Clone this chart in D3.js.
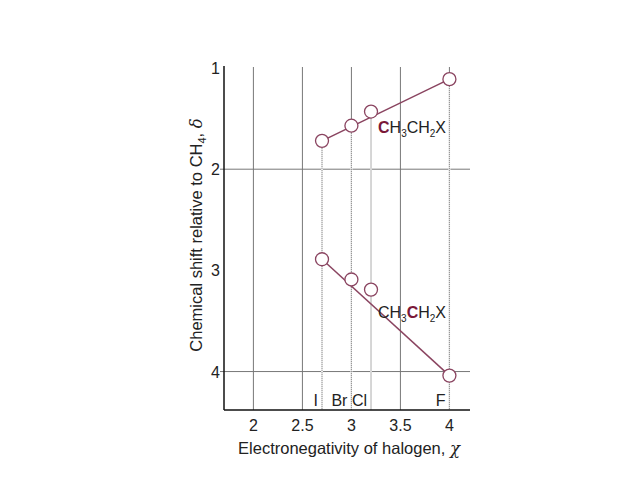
<!DOCTYPE html>
<html>
<head>
<script src="https://d3js.org/d3.v7.min.js"></script>
<style>
  body { margin: 0; background: #fff; }
  text { font-family: "Liberation Sans", Arial, sans-serif; fill: #222; }
</style>
</head>
<body>
<script>
// electronegativity of each halogen and the shifts of the two carbons
var halogens = ["I", "Br", "Cl", "F"];
var chi = [2.7, 3.0, 3.2, 4.0];
var shiftCH3 = [1.72, 1.57, 1.43, 1.11];
var shiftCH2 = [2.89, 3.09, 3.19, 4.04];
var xTicks = [2, 2.5, 3, 3.5, 4];
var yTicks = [1, 2, 3, 4];
var yGrid = [2, 4];

var width = 638, height = 478;
var svg = d3.select("body").append("svg").attr("width", width).attr("height", height);

var x = d3.scaleLinear().domain([1.7, 4.21]).range([224, 470]);
var y = d3.scaleLinear().domain([0.98, 4.38]).range([66, 410]);
var maroon = "#8a4460";

// vertical gridlines
svg.append("g").selectAll("line").data(xTicks).enter().append("line")
    .attr("x1", d => x(d)).attr("x2", d => x(d))
    .attr("y1", y.range()[0] + 1).attr("y2", y.range()[1])
    .attr("stroke", "#777").attr("stroke-width", 1);

// horizontal gridlines
svg.append("g").selectAll("line").data(yGrid).enter().append("line")
    .attr("x1", x.range()[0] - 4).attr("x2", x.range()[1])
    .attr("y1", d => y(d)).attr("y2", d => y(d))
    .attr("stroke", "#777").attr("stroke-width", 1);

// dotted drop lines from upper point to axis
var drops = svg.append("g");
chi.forEach(function(c, i) {
    drops.append("line")
        .attr("x1", x(c)).attr("x2", x(c))
        .attr("y1", y(shiftCH3[i]) + 7).attr("y2", y.range()[1])
        .attr("stroke", "#fff").attr("stroke-width", 2);
    drops.append("line")
        .attr("x1", x(c)).attr("x2", x(c))
        .attr("y1", y(shiftCH3[i]) + 7).attr("y2", y.range()[1])
        .attr("stroke", "#777").attr("stroke-width", 1.2)
        .attr("stroke-dasharray", "1,1");
});

// axes lines
svg.append("line").attr("x1", x.range()[0]).attr("x2", x.range()[0])
    .attr("y1", y.range()[0]).attr("y2", y.range()[1]).attr("stroke", "#111").attr("stroke-width", 1.5);
svg.append("line").attr("x1", x.range()[0]).attr("x2", x.range()[1])
    .attr("y1", y.range()[1]).attr("y2", y.range()[1]).attr("stroke", "#111").attr("stroke-width", 1.5);

// tick labels
svg.append("g").selectAll("text").data(xTicks).enter().append("text")
    .attr("x", d => x(d)).attr("y", 431)
    .attr("text-anchor", "middle").attr("font-size", 16)
    .text(d => d);

svg.append("g").selectAll("text").data(yTicks).enter().append("text")
    .attr("x", 220).attr("y", d => y(d) + 6)
    .attr("text-anchor", "end").attr("font-size", 16)
    .text(d => d);

// halogen labels
svg.append("g").selectAll("text").data(halogens).enter().append("text")
    .attr("x", (d, i) => x(chi[i]) - 4).attr("y", 406)
    .attr("text-anchor", "end").attr("font-size", 16)
    .text(d => d);

// axis titles
svg.append("text").attr("x", 349).attr("y", 454)
    .attr("text-anchor", "middle").attr("font-size", 16.5)
    .html('Electronegativity of halogen, <tspan font-family="DejaVu Serif" font-style="italic">χ</tspan>');

svg.append("text")
    .attr("transform", "translate(202,235) rotate(-90)")
    .attr("text-anchor", "middle").attr("font-size", 16.5)
    .html('Chemical shift relative to CH<tspan font-size="11" dy="4">4</tspan><tspan dy="-4">, </tspan><tspan font-family="DejaVu Serif" font-style="italic">δ</tspan>');

// series
[shiftCH3, shiftCH2].forEach(function(s) {
    var n = s.length - 1;
    svg.append("line")
        .attr("x1", x(chi[0])).attr("y1", y(s[0]))
        .attr("x2", x(chi[n])).attr("y2", y(s[n]))
        .attr("stroke", maroon).attr("stroke-width", 1.5);
    svg.append("g").selectAll("circle").data(s).enter().append("circle")
        .attr("cx", (d, i) => x(chi[i])).attr("cy", d => y(d))
        .attr("r", 6.5).attr("fill", "#fff")
        .attr("stroke", maroon).attr("stroke-width", 1.3);
});

// series labels
svg.append("text").attr("x", 378).attr("y", 133).attr("font-size", 16)
    .html('<tspan fill="#7a1838" font-weight="bold">C</tspan>H<tspan font-size="10" dy="4">3</tspan><tspan dy="-4">CH</tspan><tspan font-size="10" dy="4">2</tspan><tspan dy="-4">X</tspan>');
svg.append("text").attr("x", 378).attr("y", 318).attr("font-size", 16)
    .html('CH<tspan font-size="10" dy="4">3</tspan><tspan dy="-4" fill="#7a1838" font-weight="bold">C</tspan>H<tspan font-size="10" dy="4">2</tspan><tspan dy="-4">X</tspan>');
</script>
</body>
</html>
